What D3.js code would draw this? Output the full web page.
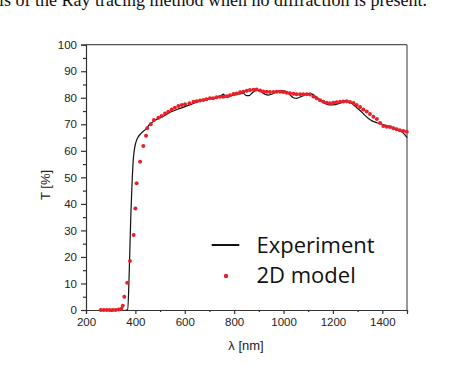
<!DOCTYPE html>
<html>
<head>
<meta charset="utf-8">
<script src="https://cdn.jsdelivr.net/npm/d3@7"></script>
<style>
  body { margin: 0; background: #fff; }
  svg { display: block; }
</style>
</head>
<body>
<div id="chart"></div>
<script>
// Experiment (black line): wavelength nm, transmission %
const expWavelength = [360, 369, 374, 378, 382, 387, 391, 396, 402, 410, 422, 440, 459, 480, 513, 545, 581, 620, 675, 710, 743, 750, 756, 763, 770, 790, 810, 837, 851, 860, 875, 891, 910, 925, 938, 955, 975, 992, 1010, 1025, 1040, 1053, 1070, 1090, 1107, 1120, 1134, 1150, 1170, 1188, 1210, 1230, 1249, 1262, 1276, 1290, 1310, 1325, 1344, 1360, 1378, 1400, 1431, 1450, 1472, 1490, 1500];
const expT = [0, 0, 11, 24, 37, 49, 56, 60.5, 63.2, 65, 66.5, 68, 70, 71.5, 73, 74.7, 76, 77.3, 79.2, 79.8, 80.4, 81.0, 81.4, 80.7, 80.2, 80.8, 81.2, 81.6, 80.8, 80.8, 82, 82.9, 82.3, 81.3, 81.0, 81.4, 82.4, 82.7, 82.4, 81.2, 80.0, 79.8, 80.4, 81.3, 81.7, 81.2, 80.2, 79.0, 77.8, 77.3, 77.4, 78.0, 78.8, 78.6, 77.9, 76.8, 75.2, 73.8, 72.2, 71.2, 70.6, 70.0, 69.1, 68.6, 67.6, 66.2, 65.0];

// 2D model (red dots)
const modelWavelength = [260, 272, 284, 296, 308, 320, 332, 343, 349, 355, 367, 378, 393, 400, 405, 419, 432, 443, 448, 462, 475, 493, 506, 520, 533, 547, 560, 574, 588, 601, 619, 635, 648, 662, 675, 688, 702, 715, 729, 743, 756, 770, 783, 797, 810, 824, 837, 851, 864, 878, 891, 905, 918, 932, 945, 959, 972, 986, 999, 1013, 1026, 1040, 1053, 1067, 1080, 1094, 1107, 1121, 1134, 1148, 1161, 1175, 1188, 1202, 1215, 1229, 1242, 1256, 1269, 1283, 1296, 1310, 1323, 1337, 1350, 1364, 1378, 1391, 1404, 1418, 1431, 1445, 1458, 1471, 1485, 1499];
const modelT = [0, 0, 0, 0, 0, 0, 0.2, 0.5, 1.6, 5.0, 10.3, 18.5, 28.3, 38.3, 47.8, 55.9, 61.8, 65.7, 68.5, 70.0, 71.6, 72.5, 73.1, 74.1, 74.7, 75.6, 76.2, 76.9, 77.3, 77.6, 77.9, 78.5, 78.7, 79.0, 79.2, 79.4, 79.8, 79.8, 80.2, 80.4, 80.4, 80.6, 80.9, 81.4, 81.6, 82.1, 82.3, 82.6, 82.9, 83.0, 83.1, 82.7, 82.4, 82.3, 82.2, 82.2, 82.3, 82.3, 82.2, 81.9, 81.7, 81.5, 81.3, 81.3, 81.3, 81.3, 81.2, 80.5, 79.8, 79.1, 78.5, 78.1, 77.9, 78.1, 78.3, 78.5, 78.6, 78.7, 78.4, 78.0, 77.3, 76.5, 75.6, 74.8, 73.9, 72.8, 72.0, 70.5, 69.4, 69.1, 69.0, 68.5, 68.1, 67.8, 67.5, 67.2];

const xTicks = [200, 400, 600, 800, 1000, 1200, 1400];
const xMinorTicks = [300, 500, 700, 900, 1100, 1300, 1500];
const yTicks = [0, 10, 20, 30, 40, 50, 60, 70, 80, 90, 100];
const yMinorTicks = [5, 15, 25, 35, 45, 55, 65, 75, 85, 95];
const legendLabels = ["Experiment", "2D model"];
const caption = "ls of the Ray tracing method when no diffraction is present.";

const W = 474, H = 366;
const margin = { top: 44.7, right: 67, bottom: 56, left: 86 };
const width = W - margin.left - margin.right;
const height = H - margin.top - margin.bottom;

const svg = d3.select("#chart").append("svg")
  .attr("width", W)
  .attr("height", H);

svg.append("text")
  .attr("x", -1)
  .attr("y", 6)
  .style("font-family", "'Liberation Serif', 'Times New Roman', serif")
  .style("font-size", "18px")
  .attr("fill", "#111")
  .text(caption);

const g = svg.append("g")
  .attr("transform", `translate(${margin.left},${margin.top})`);

const x = d3.scaleLinear().domain([200, 1500]).range([0, width]);
const y = d3.scaleLinear().domain([0, 100]).range([height, 0]);

const axisColor = "#333";
const tickFont = "'Liberation Sans', Arial, sans-serif";

// frame (top and right)
g.append("line").attr("x1", 0).attr("x2", width).attr("y1", 0).attr("y2", 0)
  .attr("stroke", "#555").attr("stroke-width", 1.2);
g.append("line").attr("x1", width).attr("x2", width).attr("y1", 0).attr("y2", height)
  .attr("stroke", "#555").attr("stroke-width", 1.2);

// bottom axis
g.append("g")
  .attr("transform", `translate(0,${height})`)
  .call(d3.axisBottom(x).tickValues(xTicks).tickSize(4).tickPadding(4).tickFormat(d3.format("d")));
g.append("g")
  .attr("transform", `translate(0,${height})`)
  .call(d3.axisBottom(x).tickValues(xMinorTicks).tickSize(2).tickFormat(""))
  .call(a => a.select(".domain").remove());

// left axis
g.append("g")
  .call(d3.axisLeft(y).tickValues(yTicks).tickSize(5).tickPadding(4));
g.append("g")
  .call(d3.axisLeft(y).tickValues(yMinorTicks).tickSize(3).tickFormat(""))
  .call(a => a.select(".domain").remove());

g.selectAll(".domain, .tick line")
  .attr("stroke", axisColor)
  .attr("stroke-width", 1.2);
g.selectAll(".tick text")
  .attr("fill", "#222")
  .style("font-family", tickFont)
  .style("font-size", "11.5px");

// data
const expData = expWavelength.map((w, i) => ({ w: w, t: expT[i] }));
const modelData = modelWavelength.map((w, i) => ({ w: w, t: modelT[i] }));

const line = d3.line()
  .x(d => x(d.w))
  .y(d => y(d.t))
  .curve(d3.curveMonotoneX);

g.append("path")
  .datum(expData)
  .attr("d", line)
  .attr("fill", "none")
  .attr("stroke", "#111")
  .attr("stroke-width", 1.2);

g.selectAll(".dot")
  .data(modelData)
  .enter()
  .append("circle")
  .attr("class", "dot")
  .attr("cx", d => x(d.w))
  .attr("cy", d => y(d.t))
  .attr("r", 2)
  .attr("fill", "#e8202a");

// axis titles
svg.append("text")
  .attr("transform", "translate(50,185) rotate(-90)")
  .attr("text-anchor", "middle")
  .style("font-family", tickFont)
  .style("font-size", "13px")
  .attr("fill", "#222")
  .text("T [%]");

svg.append("text")
  .attr("x", 246)
  .attr("y", 350)
  .attr("text-anchor", "middle")
  .style("font-family", tickFont)
  .style("font-size", "13px")
  .attr("fill", "#222")
  .text("λ [nm]");

// legend
const legend = svg.append("g");
legend.append("line")
  .attr("x1", 211.7).attr("x2", 239.3)
  .attr("y1", 245).attr("y2", 245)
  .attr("stroke", "#111").attr("stroke-width", 2);
legend.append("circle")
  .attr("cx", 226).attr("cy", 276).attr("r", 2.2)
  .attr("fill", "#e8202a");
legend.selectAll(".legend-label")
  .data(legendLabels)
  .enter()
  .append("text")
  .attr("class", "legend-label")
  .attr("x", 256.5)
  .attr("y", (d, i) => 253 + i * 30.3)
  .style("font-family", "'Open Sans', sans-serif")
  .style("font-size", "22px")
  .attr("fill", "#111")
  .text(d => d);
</script>
</body>
</html>
